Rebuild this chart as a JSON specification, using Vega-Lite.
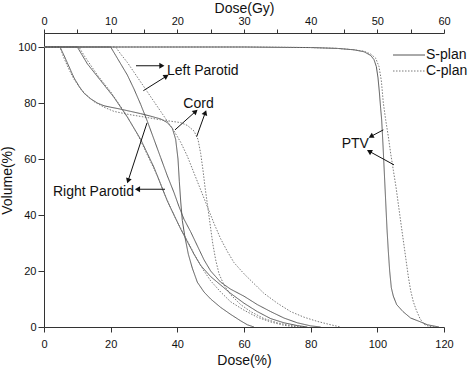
{
  "$schema": "https://vega.github.io/schema/vega-lite/v6.json",
  "autosize": "none",
  "width": 400,
  "height": 294,
  "padding": {"left": 44, "top": 33, "right": 30, "bottom": 42},
  "background": "white",
  "config": {
    "view": {"stroke": null},
    "font": "Liberation Sans",
    "axis": {
      "grid": false,
      "domainColor": "#333",
      "tickColor": "#333",
      "labelColor": "#111",
      "titleColor": "#111",
      "labelFont": "Liberation Sans",
      "titleFont": "Liberation Sans",
      "labelFontSize": 11,
      "titleFontSize": 14,
      "titleFontWeight": "normal"
    },
    "legend": {"labelFont": "Liberation Sans"}
  },
  "datasets": {
    "curves": [
      {"structure":"PTV","plan":"S-plan","dose":0,"volume":100},{"structure":"PTV","plan":"S-plan","dose":60,"volume":100},{"structure":"PTV","plan":"S-plan","dose":80,"volume":99.8},{"structure":"PTV","plan":"S-plan","dose":88,"volume":99.5},{"structure":"PTV","plan":"S-plan","dose":93,"volume":99},{"structure":"PTV","plan":"S-plan","dose":96,"volume":98.3},{"structure":"PTV","plan":"S-plan","dose":98,"volume":97},{"structure":"PTV","plan":"S-plan","dose":99,"volume":95.5},{"structure":"PTV","plan":"S-plan","dose":99.7,"volume":93},{"structure":"PTV","plan":"S-plan","dose":100.2,"volume":89},{"structure":"PTV","plan":"S-plan","dose":100.6,"volume":84},{"structure":"PTV","plan":"S-plan","dose":101,"volume":78},{"structure":"PTV","plan":"S-plan","dose":101.3,"volume":74},{"structure":"PTV","plan":"S-plan","dose":101.7,"volume":65},{"structure":"PTV","plan":"S-plan","dose":102.1,"volume":55},{"structure":"PTV","plan":"S-plan","dose":102.5,"volume":45},{"structure":"PTV","plan":"S-plan","dose":102.9,"volume":35},{"structure":"PTV","plan":"S-plan","dose":103.3,"volume":27},{"structure":"PTV","plan":"S-plan","dose":103.7,"volume":20},{"structure":"PTV","plan":"S-plan","dose":104.2,"volume":14},{"structure":"PTV","plan":"S-plan","dose":104.8,"volume":11},{"structure":"PTV","plan":"S-plan","dose":105.8,"volume":8},{"structure":"PTV","plan":"S-plan","dose":107.7,"volume":5.5},{"structure":"PTV","plan":"S-plan","dose":110,"volume":3.2},{"structure":"PTV","plan":"S-plan","dose":112.8,"volume":1.9},{"structure":"PTV","plan":"S-plan","dose":115,"volume":0.8},{"structure":"PTV","plan":"S-plan","dose":118.5,"volume":0},
      {"structure":"PTV","plan":"C-plan","dose":0,"volume":100},{"structure":"PTV","plan":"C-plan","dose":60,"volume":100},{"structure":"PTV","plan":"C-plan","dose":80,"volume":99.8},{"structure":"PTV","plan":"C-plan","dose":88,"volume":99.5},{"structure":"PTV","plan":"C-plan","dose":93,"volume":99},{"structure":"PTV","plan":"C-plan","dose":96,"volume":98.5},{"structure":"PTV","plan":"C-plan","dose":98,"volume":97.5},{"structure":"PTV","plan":"C-plan","dose":99.5,"volume":96},{"structure":"PTV","plan":"C-plan","dose":100.5,"volume":93},{"structure":"PTV","plan":"C-plan","dose":101.2,"volume":88},{"structure":"PTV","plan":"C-plan","dose":101.8,"volume":80},{"structure":"PTV","plan":"C-plan","dose":102.5,"volume":74},{"structure":"PTV","plan":"C-plan","dose":103.3,"volume":68},{"structure":"PTV","plan":"C-plan","dose":104,"volume":62},{"structure":"PTV","plan":"C-plan","dose":104.8,"volume":56},{"structure":"PTV","plan":"C-plan","dose":105.6,"volume":50},{"structure":"PTV","plan":"C-plan","dose":106.4,"volume":43},{"structure":"PTV","plan":"C-plan","dose":107.2,"volume":36},{"structure":"PTV","plan":"C-plan","dose":107.9,"volume":30},{"structure":"PTV","plan":"C-plan","dose":108.6,"volume":24},{"structure":"PTV","plan":"C-plan","dose":109.3,"volume":18},{"structure":"PTV","plan":"C-plan","dose":110,"volume":13},{"structure":"PTV","plan":"C-plan","dose":110.8,"volume":9},{"structure":"PTV","plan":"C-plan","dose":111.7,"volume":6},{"structure":"PTV","plan":"C-plan","dose":112.8,"volume":3},{"structure":"PTV","plan":"C-plan","dose":114,"volume":1},{"structure":"PTV","plan":"C-plan","dose":115.5,"volume":0.2},{"structure":"PTV","plan":"C-plan","dose":118,"volume":0},
      {"structure":"Cord","plan":"S-plan","dose":0,"volume":100},{"structure":"Cord","plan":"S-plan","dose":4.8,"volume":100},{"structure":"Cord","plan":"S-plan","dose":6,"volume":97},{"structure":"Cord","plan":"S-plan","dose":7.5,"volume":93},{"structure":"Cord","plan":"S-plan","dose":9,"volume":89},{"structure":"Cord","plan":"S-plan","dose":10.5,"volume":86},{"structure":"Cord","plan":"S-plan","dose":12,"volume":83.5},{"structure":"Cord","plan":"S-plan","dose":14,"volume":81.5},{"structure":"Cord","plan":"S-plan","dose":16,"volume":80},{"structure":"Cord","plan":"S-plan","dose":18,"volume":79},{"structure":"Cord","plan":"S-plan","dose":20,"volume":78.5},{"structure":"Cord","plan":"S-plan","dose":23,"volume":77.8},{"structure":"Cord","plan":"S-plan","dose":26,"volume":77},{"structure":"Cord","plan":"S-plan","dose":29,"volume":76.2},{"structure":"Cord","plan":"S-plan","dose":32,"volume":75.3},{"structure":"Cord","plan":"S-plan","dose":35,"volume":74.3},{"structure":"Cord","plan":"S-plan","dose":37,"volume":73},{"structure":"Cord","plan":"S-plan","dose":38.5,"volume":71},{"structure":"Cord","plan":"S-plan","dose":39.5,"volume":67},{"structure":"Cord","plan":"S-plan","dose":40.2,"volume":60},{"structure":"Cord","plan":"S-plan","dose":40.6,"volume":52},{"structure":"Cord","plan":"S-plan","dose":41,"volume":45},{"structure":"Cord","plan":"S-plan","dose":41.5,"volume":38},{"structure":"Cord","plan":"S-plan","dose":42.3,"volume":32},{"structure":"Cord","plan":"S-plan","dose":43.3,"volume":26},{"structure":"Cord","plan":"S-plan","dose":44.5,"volume":21},{"structure":"Cord","plan":"S-plan","dose":46,"volume":16},{"structure":"Cord","plan":"S-plan","dose":48,"volume":12.5},{"structure":"Cord","plan":"S-plan","dose":50,"volume":10},{"structure":"Cord","plan":"S-plan","dose":53,"volume":7},{"structure":"Cord","plan":"S-plan","dose":56,"volume":4.5},{"structure":"Cord","plan":"S-plan","dose":59,"volume":2.2},{"structure":"Cord","plan":"S-plan","dose":61,"volume":0.8},{"structure":"Cord","plan":"S-plan","dose":63,"volume":0},
      {"structure":"Cord","plan":"C-plan","dose":0,"volume":100},{"structure":"Cord","plan":"C-plan","dose":4.8,"volume":100},{"structure":"Cord","plan":"C-plan","dose":6,"volume":96},{"structure":"Cord","plan":"C-plan","dose":7.5,"volume":92},{"structure":"Cord","plan":"C-plan","dose":9,"volume":88.5},{"structure":"Cord","plan":"C-plan","dose":11,"volume":85},{"structure":"Cord","plan":"C-plan","dose":13,"volume":82.5},{"structure":"Cord","plan":"C-plan","dose":15,"volume":80.5},{"structure":"Cord","plan":"C-plan","dose":18,"volume":78.5},{"structure":"Cord","plan":"C-plan","dose":21,"volume":77},{"structure":"Cord","plan":"C-plan","dose":25,"volume":76},{"structure":"Cord","plan":"C-plan","dose":30,"volume":75},{"structure":"Cord","plan":"C-plan","dose":35,"volume":74},{"structure":"Cord","plan":"C-plan","dose":38,"volume":73.5},{"structure":"Cord","plan":"C-plan","dose":41,"volume":73},{"structure":"Cord","plan":"C-plan","dose":43,"volume":72},{"structure":"Cord","plan":"C-plan","dose":45,"volume":70},{"structure":"Cord","plan":"C-plan","dose":46.2,"volume":67},{"structure":"Cord","plan":"C-plan","dose":47,"volume":62},{"structure":"Cord","plan":"C-plan","dose":47.7,"volume":56},{"structure":"Cord","plan":"C-plan","dose":48.3,"volume":50},{"structure":"Cord","plan":"C-plan","dose":49,"volume":44},{"structure":"Cord","plan":"C-plan","dose":49.8,"volume":37},{"structure":"Cord","plan":"C-plan","dose":50.6,"volume":30},{"structure":"Cord","plan":"C-plan","dose":51.5,"volume":24},{"structure":"Cord","plan":"C-plan","dose":52.5,"volume":19},{"structure":"Cord","plan":"C-plan","dose":54,"volume":15},{"structure":"Cord","plan":"C-plan","dose":56,"volume":11.5},{"structure":"Cord","plan":"C-plan","dose":59,"volume":8},{"structure":"Cord","plan":"C-plan","dose":62,"volume":5.5},{"structure":"Cord","plan":"C-plan","dose":66,"volume":3},{"structure":"Cord","plan":"C-plan","dose":70,"volume":1.5},{"structure":"Cord","plan":"C-plan","dose":74,"volume":0.5},{"structure":"Cord","plan":"C-plan","dose":78,"volume":0},
      {"structure":"Right Parotid","plan":"S-plan","dose":0,"volume":100},{"structure":"Right Parotid","plan":"S-plan","dose":10,"volume":100},{"structure":"Right Parotid","plan":"S-plan","dose":11.5,"volume":97},{"structure":"Right Parotid","plan":"S-plan","dose":13,"volume":94},{"structure":"Right Parotid","plan":"S-plan","dose":15,"volume":91},{"structure":"Right Parotid","plan":"S-plan","dose":17,"volume":88},{"structure":"Right Parotid","plan":"S-plan","dose":19,"volume":85},{"structure":"Right Parotid","plan":"S-plan","dose":21,"volume":82},{"structure":"Right Parotid","plan":"S-plan","dose":23,"volume":78.5},{"structure":"Right Parotid","plan":"S-plan","dose":25,"volume":75},{"structure":"Right Parotid","plan":"S-plan","dose":27,"volume":71},{"structure":"Right Parotid","plan":"S-plan","dose":29,"volume":67},{"structure":"Right Parotid","plan":"S-plan","dose":31,"volume":62},{"structure":"Right Parotid","plan":"S-plan","dose":33,"volume":57},{"structure":"Right Parotid","plan":"S-plan","dose":35,"volume":51},{"structure":"Right Parotid","plan":"S-plan","dose":37,"volume":45},{"structure":"Right Parotid","plan":"S-plan","dose":39,"volume":40},{"structure":"Right Parotid","plan":"S-plan","dose":41,"volume":35},{"structure":"Right Parotid","plan":"S-plan","dose":43,"volume":30.5},{"structure":"Right Parotid","plan":"S-plan","dose":45,"volume":26},{"structure":"Right Parotid","plan":"S-plan","dose":47,"volume":22},{"structure":"Right Parotid","plan":"S-plan","dose":50,"volume":18},{"structure":"Right Parotid","plan":"S-plan","dose":53,"volume":15},{"structure":"Right Parotid","plan":"S-plan","dose":56,"volume":12},{"structure":"Right Parotid","plan":"S-plan","dose":60,"volume":8.5},{"structure":"Right Parotid","plan":"S-plan","dose":64,"volume":5.5},{"structure":"Right Parotid","plan":"S-plan","dose":68,"volume":3},{"structure":"Right Parotid","plan":"S-plan","dose":72,"volume":1.5},{"structure":"Right Parotid","plan":"S-plan","dose":76,"volume":0.5},{"structure":"Right Parotid","plan":"S-plan","dose":79,"volume":0},
      {"structure":"Right Parotid","plan":"C-plan","dose":0,"volume":100},{"structure":"Right Parotid","plan":"C-plan","dose":10.5,"volume":100},{"structure":"Right Parotid","plan":"C-plan","dose":12,"volume":97},{"structure":"Right Parotid","plan":"C-plan","dose":14,"volume":93.5},{"structure":"Right Parotid","plan":"C-plan","dose":16,"volume":90},{"structure":"Right Parotid","plan":"C-plan","dose":18,"volume":87},{"structure":"Right Parotid","plan":"C-plan","dose":20,"volume":84},{"structure":"Right Parotid","plan":"C-plan","dose":22,"volume":80.5},{"structure":"Right Parotid","plan":"C-plan","dose":24,"volume":77},{"structure":"Right Parotid","plan":"C-plan","dose":26,"volume":73},{"structure":"Right Parotid","plan":"C-plan","dose":28,"volume":69},{"structure":"Right Parotid","plan":"C-plan","dose":30,"volume":64},{"structure":"Right Parotid","plan":"C-plan","dose":32,"volume":59},{"structure":"Right Parotid","plan":"C-plan","dose":34,"volume":54},{"structure":"Right Parotid","plan":"C-plan","dose":36,"volume":48},{"structure":"Right Parotid","plan":"C-plan","dose":38,"volume":42.5},{"structure":"Right Parotid","plan":"C-plan","dose":40,"volume":37.5},{"structure":"Right Parotid","plan":"C-plan","dose":42,"volume":33},{"structure":"Right Parotid","plan":"C-plan","dose":44,"volume":28.5},{"structure":"Right Parotid","plan":"C-plan","dose":46,"volume":24},{"structure":"Right Parotid","plan":"C-plan","dose":48,"volume":20},{"structure":"Right Parotid","plan":"C-plan","dose":50,"volume":16.5},{"structure":"Right Parotid","plan":"C-plan","dose":53,"volume":12.5},{"structure":"Right Parotid","plan":"C-plan","dose":56,"volume":9},{"structure":"Right Parotid","plan":"C-plan","dose":60,"volume":6},{"structure":"Right Parotid","plan":"C-plan","dose":64,"volume":3.5},{"structure":"Right Parotid","plan":"C-plan","dose":68,"volume":1.8},{"structure":"Right Parotid","plan":"C-plan","dose":72,"volume":0.6},{"structure":"Right Parotid","plan":"C-plan","dose":76,"volume":0},
      {"structure":"Left Parotid","plan":"S-plan","dose":0,"volume":100},{"structure":"Left Parotid","plan":"S-plan","dose":20,"volume":100},{"structure":"Left Parotid","plan":"S-plan","dose":21.5,"volume":97},{"structure":"Left Parotid","plan":"S-plan","dose":23,"volume":94},{"structure":"Left Parotid","plan":"S-plan","dose":25,"volume":90},{"structure":"Left Parotid","plan":"S-plan","dose":27,"volume":85},{"structure":"Left Parotid","plan":"S-plan","dose":29,"volume":79.5},{"structure":"Left Parotid","plan":"S-plan","dose":31,"volume":73.5},{"structure":"Left Parotid","plan":"S-plan","dose":33,"volume":67},{"structure":"Left Parotid","plan":"S-plan","dose":35,"volume":60.5},{"structure":"Left Parotid","plan":"S-plan","dose":37,"volume":54},{"structure":"Left Parotid","plan":"S-plan","dose":39,"volume":48},{"structure":"Left Parotid","plan":"S-plan","dose":40.5,"volume":43},{"structure":"Left Parotid","plan":"S-plan","dose":42,"volume":38.5},{"structure":"Left Parotid","plan":"S-plan","dose":44,"volume":34},{"structure":"Left Parotid","plan":"S-plan","dose":46,"volume":29},{"structure":"Left Parotid","plan":"S-plan","dose":48,"volume":24},{"structure":"Left Parotid","plan":"S-plan","dose":50,"volume":20},{"structure":"Left Parotid","plan":"S-plan","dose":53,"volume":16},{"structure":"Left Parotid","plan":"S-plan","dose":56,"volume":13.5},{"structure":"Left Parotid","plan":"S-plan","dose":60,"volume":11},{"structure":"Left Parotid","plan":"S-plan","dose":64,"volume":8},{"structure":"Left Parotid","plan":"S-plan","dose":68,"volume":5.5},{"structure":"Left Parotid","plan":"S-plan","dose":72,"volume":3.2},{"structure":"Left Parotid","plan":"S-plan","dose":76,"volume":1.5},{"structure":"Left Parotid","plan":"S-plan","dose":80,"volume":0.4},{"structure":"Left Parotid","plan":"S-plan","dose":83,"volume":0},
      {"structure":"Left Parotid","plan":"C-plan","dose":0,"volume":100},{"structure":"Left Parotid","plan":"C-plan","dose":21.5,"volume":100},{"structure":"Left Parotid","plan":"C-plan","dose":23,"volume":97.5},{"structure":"Left Parotid","plan":"C-plan","dose":25,"volume":94.5},{"structure":"Left Parotid","plan":"C-plan","dose":27,"volume":91},{"structure":"Left Parotid","plan":"C-plan","dose":29,"volume":87.5},{"structure":"Left Parotid","plan":"C-plan","dose":31,"volume":84},{"structure":"Left Parotid","plan":"C-plan","dose":33,"volume":80.5},{"structure":"Left Parotid","plan":"C-plan","dose":35,"volume":77},{"structure":"Left Parotid","plan":"C-plan","dose":37,"volume":73.5},{"structure":"Left Parotid","plan":"C-plan","dose":39,"volume":70},{"structure":"Left Parotid","plan":"C-plan","dose":41,"volume":66},{"structure":"Left Parotid","plan":"C-plan","dose":43,"volume":61},{"structure":"Left Parotid","plan":"C-plan","dose":45,"volume":55},{"structure":"Left Parotid","plan":"C-plan","dose":47,"volume":49},{"structure":"Left Parotid","plan":"C-plan","dose":49,"volume":43},{"structure":"Left Parotid","plan":"C-plan","dose":51,"volume":37},{"structure":"Left Parotid","plan":"C-plan","dose":53,"volume":31.5},{"structure":"Left Parotid","plan":"C-plan","dose":55,"volume":27},{"structure":"Left Parotid","plan":"C-plan","dose":57,"volume":23},{"structure":"Left Parotid","plan":"C-plan","dose":60,"volume":19},{"structure":"Left Parotid","plan":"C-plan","dose":63,"volume":15.5},{"structure":"Left Parotid","plan":"C-plan","dose":66,"volume":12},{"structure":"Left Parotid","plan":"C-plan","dose":70,"volume":8.5},{"structure":"Left Parotid","plan":"C-plan","dose":74,"volume":5.5},{"structure":"Left Parotid","plan":"C-plan","dose":78,"volume":3.5},{"structure":"Left Parotid","plan":"C-plan","dose":82,"volume":2},{"structure":"Left Parotid","plan":"C-plan","dose":86,"volume":0.8},{"structure":"Left Parotid","plan":"C-plan","dose":89,"volume":0}
    ],
    "labels": [
      {"label":"Left Parotid","dose":36.9,"volume":91.4},
      {"label":"Cord","dose":41.8,"volume":79.6},
      {"label":"Right Parotid","dose":2.7,"volume":48.3},
      {"label":"PTV","dose":89.3,"volume":65.4}
    ],
    "arrows": [
      {"target":"Left Parotid","dose":27.6,"volume":93.3,"dose2":35.1,"volume2":93.3},
      {"target":"Left Parotid","dose":29.8,"volume":84.4,"dose2":36.5,"volume2":89.4},
      {"target":"Cord","dose":39.3,"volume":70.4,"dose2":45.3,"volume2":76.8},
      {"target":"Cord","dose":45.8,"volume":68,"dose2":48.3,"volume2":76.3},
      {"target":"Right Parotid","dose":36.3,"volume":49.2,"dose2":28.3,"volume2":49.2},
      {"target":"Right Parotid","dose":30.9,"volume":72.9,"dose2":25.3,"volume2":52.5},
      {"target":"PTV","dose":101.8,"volume":70.4,"dose2":98.3,"volume2":68.2},
      {"target":"PTV","dose":105,"volume":57.9,"dose2":97.8,"volume2":62.6}
    ],
    "gy": [{"gy":0},{"gy":60}]
  },
  "layer": [
    {
      "layer": [
        {
          "data": {"name": "curves"},
          "mark": {"type": "line", "strokeWidth": 1, "clip": true},
          "encoding": {
            "x": {"field": "dose", "type": "quantitative", "scale": {"domain": [0, 120], "nice": false},
              "axis": {"title": "Dose(%)", "values": [0,10,20,30,40,50,60,70,80,90,100,110,120],
                "labelExpr": "datum.value % 20 === 0 ? datum.label : ''",
                "tickSize": {"condition": {"test": "datum.value % 20 === 0", "value": 5}, "value": 3},
                "labelPadding": 6, "titlePadding": 4, "labelFlush": false}},
            "y": {"field": "volume", "type": "quantitative", "scale": {"domain": [0, 105], "nice": false},
              "axis": {"title": "Volume(%)", "values": [0,10,20,30,40,50,60,70,80,90,100],
                "labelExpr": "datum.value % 20 === 0 ? datum.label : ''",
                "tickSize": {"condition": {"test": "datum.value % 20 === 0", "value": 6}, "value": 3},
                "labelPadding": 2, "titlePadding": 3, "labelFlush": false}},
            "detail": {"field": "structure"},
            "color": {"field": "plan", "type": "nominal", "scale": {"domain": ["S-plan", "C-plan"], "range": ["#555555", "#7a7a7a"]},
              "legend": {"orient": "none", "legendX": 358, "legendY": 15, "title": null, "symbolType": "M-3.2,0H3.2", "symbolSize": 100, "symbolStrokeWidth": 1, "labelFontSize": 14, "labelColor": "#111", "labelOffset": 10, "rowPadding": 2, "padding": 0}},
            "strokeDash": {"field": "plan", "type": "nominal", "scale": {"domain": ["S-plan", "C-plan"], "range": [[1, 0], [1.5, 1.5]]},
              "legend": {"orient": "none", "legendX": 358, "legendY": 15, "title": null, "symbolType": "M-3.2,0H3.2", "symbolSize": 100, "symbolStrokeWidth": 1, "labelFontSize": 14, "labelColor": "#111", "labelOffset": 10, "rowPadding": 2, "padding": 0}}
          }
        },
        {
          "data": {"name": "arrows"},
          "mark": {"type": "rule", "color": "#111", "strokeWidth": 1},
          "encoding": {
            "x": {"field": "dose", "type": "quantitative"},
            "y": {"field": "volume", "type": "quantitative"},
            "x2": {"field": "dose2"},
            "y2": {"field": "volume2"}
          }
        },
        {
          "data": {"name": "arrows"},
          "transform": [{"calculate": "atan2((datum.dose2 - datum.dose) * 400 / 120, (datum.volume2 - datum.volume) * 294 / 105) * 180 / PI", "as": "angle"}],
          "mark": {"type": "point", "shape": "triangle", "filled": true, "fill": "#111", "strokeWidth": 0, "opacity": 1, "size": 35},
          "encoding": {
            "x": {"field": "dose2", "type": "quantitative"},
            "y": {"field": "volume2", "type": "quantitative"},
            "angle": {"field": "angle", "type": "quantitative", "scale": null}
          }
        },
        {
          "data": {"name": "labels"},
          "mark": {"type": "text", "align": "left", "baseline": "middle", "fontSize": 14, "font": "Liberation Sans", "color": "#111"},
          "encoding": {
            "x": {"field": "dose", "type": "quantitative"},
            "y": {"field": "volume", "type": "quantitative"},
            "text": {"field": "label"}
          }
        }
      ]
    },
    {
      "data": {"name": "gy"},
      "mark": {"type": "point", "opacity": 0},
      "encoding": {
        "x": {"field": "gy", "type": "quantitative", "scale": {"domain": [0, 60], "nice": false},
          "axis": {"orient": "top", "title": "Dose(Gy)", "values": [0,5,10,15,20,25,30,35,40,45,50,55,60],
            "labelExpr": "datum.value % 10 === 0 ? datum.label : ''",
            "tickSize": 4, "labelPadding": 3, "titlePadding": 0, "labelFlush": false}}
      }
    }
  ],
  "resolve": {"scale": {"x": "independent"}}
}
